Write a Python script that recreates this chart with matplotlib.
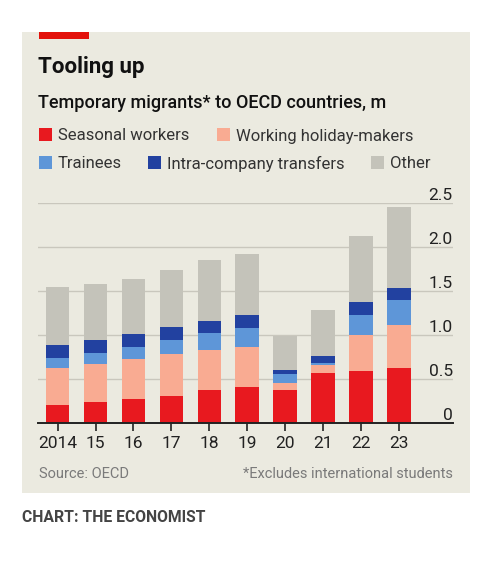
import matplotlib.pyplot as plt
import matplotlib.patches as patches
import numpy as np

# Data, millions
years = ["2014", "15", "16", "17", "18", "19", "20", "21", "22", "23"]
seasonal = [0.21, 0.235, 0.27, 0.31, 0.37, 0.41, 0.37, 0.565, 0.59, 0.62]
holiday = [0.42, 0.435, 0.46, 0.47, 0.46, 0.45, 0.085, 0.09, 0.405, 0.49]
trainees = [0.11, 0.13, 0.135, 0.165, 0.19, 0.225, 0.10, 0.03, 0.235, 0.29]
intra = [0.15, 0.147, 0.152, 0.15, 0.144, 0.145, 0.05, 0.08, 0.15, 0.13]
other = [0.65, 0.636, 0.625, 0.644, 0.686, 0.685, 0.38, 0.515, 0.75, 0.93]

series = [seasonal, holiday, trainees, intra, other]
labels = ["Seasonal workers", "Working holiday-makers", "Trainees",
          "Intra-company transfers", "Other"]
colors = ["#e8191f", "#f9ab92", "#5e96d8", "#2241a0", "#c4c3ba"]

yticks = [0, 0.5, 1.0, 1.5, 2.0, 2.5]
ytick_labels = ["0", "0.5", "1.0", "1.5", "2.0", "2.5"]

plt.rcParams["font.family"] = ["Roboto", "DejaVu Sans"]

W, H = 490, 564
fig = plt.figure(figsize=(W / 100, H / 100), dpi=100)
fig.patch.set_facecolor("white")


def fx(px):
    return px / W


def fy(py):
    return 1 - py / H


# beige panel
fig.patches.append(patches.Rectangle((fx(22), fy(493)), fx(470) - fx(22), fy(32) - fy(493),
                                     transform=fig.transFigure, facecolor="#ebeae0",
                                     edgecolor="none", zorder=-10))
# red tag
fig.patches.append(patches.Rectangle((fx(39), fy(38.5)), fx(89) - fx(39), fy(32) - fy(38.5),
                                     transform=fig.transFigure, facecolor="#e3120b",
                                     edgecolor="none", zorder=-5))

ax = fig.add_axes([fx(38.3), fy(423), fx(452.7) - fx(38.3), fy(203) - fy(423)])
ax.set_facecolor("none")

x = np.arange(len(years))
bottom = np.zeros(len(years))
for vals, lab, col in zip(series, labels, colors):
    ax.bar(x, vals, bottom=bottom, width=0.62, color=col, label=lab, zorder=3)
    bottom += np.array(vals)

ax.set_xlim(-0.51, 10.42)
ax.set_ylim(0, 2.5)

for v in yticks[1:]:
    ax.axhline(v, color="#c9c7bd", lw=1, zorder=1)

ax.yaxis.tick_right()
ax.set_yticks(yticks)
ax.set_yticklabels(ytick_labels)
ax.tick_params(axis="y", length=0, pad=0, labelsize=12.5, labelcolor="#222222")
for t in ax.get_yticklabels():
    t.set_ha("right")
    t.set_va("bottom")

ax.set_xticks(x)
ax.set_xticklabels(years)
ax.tick_params(axis="x", length=6, width=1.2, color="#222222", pad=3,
               labelsize=12.5, labelcolor="#222222")

for s in ["top", "left", "right"]:
    ax.spines[s].set_visible(False)
ax.spines["bottom"].set_color("#222222")
ax.spines["bottom"].set_linewidth(1.4)
ax.spines["bottom"].set_zorder(4)

# titles
fig.text(fx(38), fy(73.5), "Tooling up", fontsize=16, fontweight="bold",
         color="#111111", va="baseline")
fig.text(fx(38), fy(107.5), "Temporary migrants* to OECD countries, m", fontsize=13,
         fontweight="medium", color="#111111", va="baseline")

# legend, placed by hand to follow the two rows of the original
legend_pos = [(39, 141), (217, 141), (39, 169), (148, 169), (371, 169)]
for (lx, ly), lab, col in zip(legend_pos, labels, colors):
    fig.patches.append(patches.Rectangle((fx(lx), fy(ly)), fx(13), 13 / H,
                                         transform=fig.transFigure, facecolor=col,
                                         edgecolor="none"))
    fig.text(fx(lx + 19), fy(ly - 0.5), lab, fontsize=12, color="#333333", va="baseline")

fig.text(fx(39), fy(478), "Source: OECD", fontsize=10.5, color="#7a7a7a", va="baseline")
fig.text(fx(452.5), fy(478), "*Excludes international students", fontsize=10.5,
         color="#7a7a7a", va="baseline", ha="right")
fig.text(fx(22), fy(522), "CHART: THE ECONOMIST", fontsize=11.3, fontweight="bold",
         color="#444444", va="baseline")

fig.savefig("out.png", dpi=100)
